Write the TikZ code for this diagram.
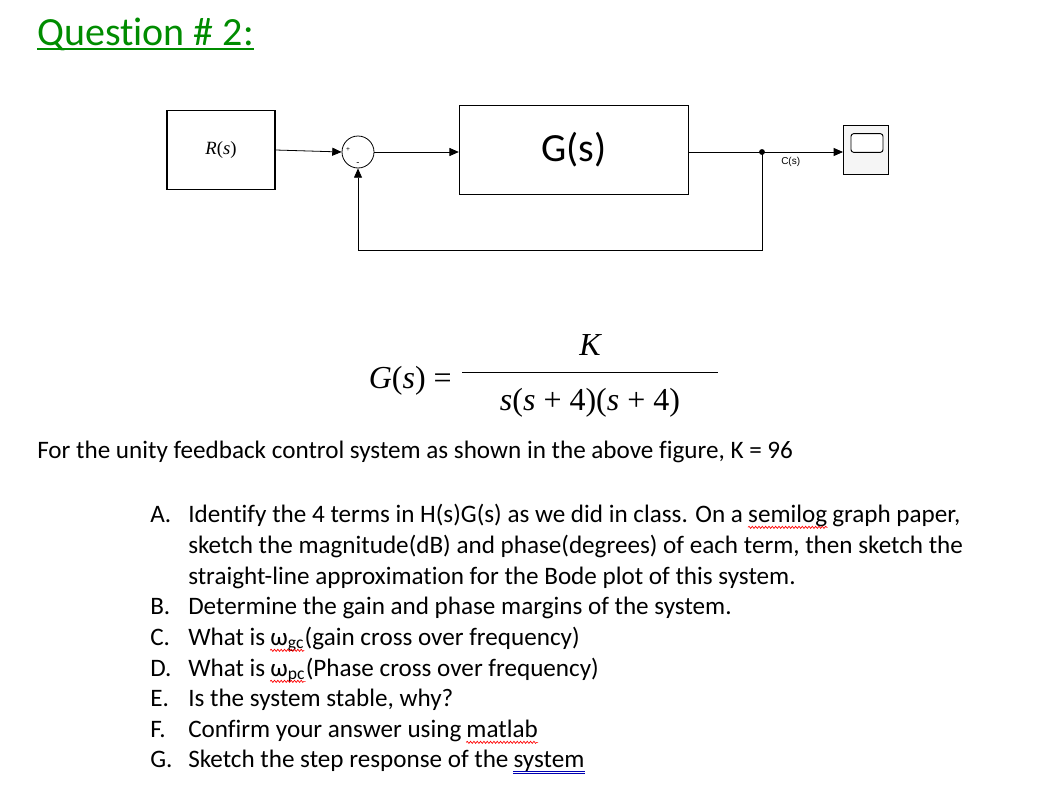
\documentclass[tikz,border=0pt]{standalone}
\usepackage{fontspec}
\setmainfont[Ligatures={NoCommon}]{Carlito}
\newfontfamily\arialf{Liberation Sans}
\newfontfamily\serf{Liberation Serif}
\usetikzlibrary{arrows.meta,decorations.pathmorphing}
\newcommand\vi[1]{{\itshape #1}}
\begin{document}
\begin{tikzpicture}[x=0.75pt,y=-0.75pt,
  txt/.style={anchor=base west,inner sep=0pt,font=\fontsize{18.85}{22}\selectfont},
  mth/.style={anchor=base,inner sep=0pt,font=\serf\fontsize{24}{28}\selectfont},
  blk/.style={draw,line width=0.8pt},
  arr/.style={-{Triangle[length=7pt,width=6pt]},line width=0.6pt},
  wave/.style={draw=red,line width=0.5pt,decorate,decoration={snake,amplitude=0.8pt,segment length=2.5pt}}]
\useasboundingbox (0,0) rectangle (1064,796);
\node[anchor=base west,inner sep=0pt,text=green!55!black,font=\fontsize{30}{34}\selectfont] (title) at (37,45) {Question \# 2:};
\draw[green!55!black,line width=1pt] ([yshift=-3pt]title.base west) -- ([yshift=-3pt]title.base east);
% block diagram
\node[blk,minimum width=81pt,minimum height=59pt] (r) at (221,150) {\serf\fontsize{14}{16}\selectfont\vi{R}(\vi{s})};
\node[draw,circle,minimum size=24pt,inner sep=0pt,line width=0.6pt] (sum) at (358,152) {};
\node[font=\arialf\fontsize{5}{6}\selectfont] (plus) at (348,150) {+};
\node[font=\arialf\fontsize{7}{8}\selectfont] (minus) at (358,164) {-};
\node[blk,minimum width=172pt,minimum height=67pt] (g) at (574,150) {\fontsize{30}{36}\selectfont G(s)};
\coordinate (dot) at (762,152);
\fill (dot) circle (2.2pt);
\node[draw,minimum width=34pt,minimum height=37pt,line width=0.5pt,fill=gray!8] (scope) at (866,150) {};
\node[draw,rounded corners=2pt,minimum width=24pt,minimum height=14pt,line width=0.7pt,fill=white] (scr) at (867,143) {};
\node[anchor=west,font=\arialf\fontsize{7.5}{9}\selectfont,inner sep=0pt] (cs) at (781,162) {C(s)};
\draw[arr] (r.east) -- (sum.west);
\draw[arr] (sum.east) -- (g.west |- sum.east);
\draw[line width=0.6pt] (g.east |- dot) -- (dot);
\draw[arr] (dot) -- (scope.west |- dot);
\coordinate (fb) at (358,250);
\draw[arr] (dot) |- (fb) -- (sum.south);
% formula
\node[mth,anchor=base east] (lhs) at (452,388) {\vi{G}(\vi{s}) =};
\node[mth] (num) at (590,355) {\vi{K}};
\node[mth] (den) at (590,410) {\vi{s}(\vi{s} + 4)(\vi{s} + 4)};
\draw[line width=0.7pt] (462,372) -- (718,372);
% text
\node[txt] (t0) at (37,458) {For the unity feedback control system as shown in the above figure, K = 96};
\node[txt] (la) at (150,522) {A.};
\node[txt] (a1) at (188,522) {Identify the 4 terms in H(s)G(s) as we did in class. On a};
\node[txt] (a1w) at ([xshift=3.4pt]a1.base east) {semilog};
\node[txt] (a1e) at ([xshift=3.4pt]a1w.base east) {graph paper,};
\node[txt] (a2) at (188,553) {sketch the magnitude(dB) and phase(degrees) of each term, then sketch the};
\node[txt] (a3) at (188,584) {straight-line approximation for the Bode plot of this system.};
\node[txt] (lb) at (150,614) {B.};
\node[txt] (b1) at (188,614) {Determine the gain and phase margins of the system.};
\node[txt] (lc) at (150,645) {C.};
\node[txt] (c1) at (188,645) {What is};
\node[txt] (c1w) at ([xshift=3.4pt]c1.base east) {ω\textsubscript{gc}};
\node[txt] (c1e) at (c1w.base east) {(gain cross over frequency)};
\node[txt] (ld) at (150,676) {D.};
\node[txt] (d1) at (188,676) {What is};
\node[txt] (d1w) at ([xshift=3.4pt]d1.base east) {ω\textsubscript{pc}};
\node[txt] (d1e) at (d1w.base east) {(Phase cross over frequency)};
\node[txt] (le) at (150,706) {E.};
\node[txt] (e1) at (188,706) {Is the system stable, why?};
\node[txt] (lf) at (150,737) {F.};
\node[txt] (f1) at (188,737) {Confirm your answer using};
\node[txt] (f1w) at ([xshift=3.4pt]f1.base east) {matlab};
\node[txt] (lg) at (150,767) {G.};
\node[txt] (g1) at (188,767) {Sketch the step response of the};
\node[txt] (g1w) at ([xshift=3.4pt]g1.base east) {system};
% underlines
\draw[wave] ([yshift=-4pt]a1w.base west) -- ([yshift=-4pt]a1w.base east);
\draw[wave] ([yshift=-4pt]c1w.base west) -- ([yshift=-4pt]c1w.base east);
\draw[wave] ([yshift=-4pt]d1w.base west) -- ([yshift=-4pt]d1w.base east);
\draw[wave] ([yshift=-4pt]f1w.base west) -- ([yshift=-4pt]f1w.base east);
\draw[blue!70!black,line width=0.7pt] ([yshift=-3pt]g1w.base west) -- ([yshift=-3pt]g1w.base east);
\draw[blue!70!black,line width=0.7pt] ([yshift=-5pt]g1w.base west) -- ([yshift=-5pt]g1w.base east);
\end{tikzpicture}
\end{document}
